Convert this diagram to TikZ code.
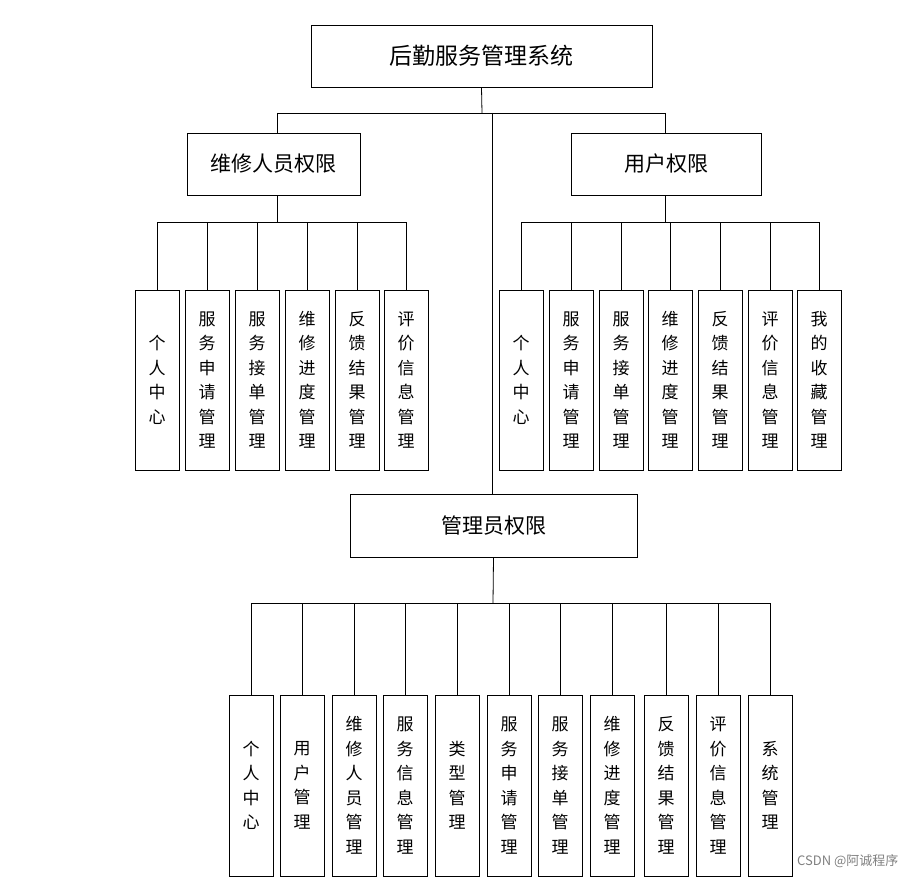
\documentclass[tikz,border=0pt]{standalone}
\usepackage{fontspec}
\setmainfont{Noto Sans CJK SC}
\begin{document}
\begin{tikzpicture}[x=1pt,y=-1pt,
  box/.style={draw,line width=0.9pt,inner sep=0pt},
  leaf/.style={box,minimum width=44pt,minimum height=180pt,align=center,font=\fontsize{17}{24.5}\selectfont},
  conn/.style={line width=0.8pt}]
\useasboundingbox (0,0) rectangle (916,880);
\node[box,minimum width=341pt,minimum height=62pt,font=\fontsize{23}{28}\selectfont] (top) at (481.5,56) {后勤服务管理系统};
\node[box,minimum width=173pt,minimum height=62pt,font=\fontsize{21}{26}\selectfont] (wx) at (273.5,164) {维修人员权限};
\node[box,minimum width=190pt,minimum height=62pt,font=\fontsize{21}{26}\selectfont] (yh) at (666,164) {用户权限};
\node[box,minimum width=287pt,minimum height=63pt,font=\fontsize{21}{26}\selectfont] (gl) at (493.5,525.5) {管理员权限};
\coordinate (j) at (482,113);
\coordinate (t1) at (492,113);
\draw[conn] (top.south) -- (j);
\draw[conn] (277,113) -- (665,113);
\draw[conn] (277,113) -- (277,133);
\draw[conn] (665,113) -- (665,133);
\draw[conn] (t1) -- (gl.north -| t1);
% left group
\draw[conn] (wx.south -| 277,0) -- (277,222);
\draw[conn] (157,222) -- (406,222);
\foreach \x/\t [count=\i] in {157/个\\人\\中\\心, 207/服\\务\\申\\请\\管\\理, 257/服\\务\\接\\单\\管\\理, 307/维\\修\\进\\度\\管\\理, 357/反\\馈\\结\\果\\管\\理, 406/评\\价\\信\\息\\管\\理}{
  \node[leaf] (l\i) at (\x,380) {\t};
  \draw[conn] (\x,222) -- (l\i.north);
}
% right group
\draw[conn] (yh.south -| 665,0) -- (665,222);
\draw[conn] (521,222) -- (819,222);
\foreach \x/\t [count=\i] in {521/个\\人\\中\\心, 571/服\\务\\申\\请\\管\\理, 621/服\\务\\接\\单\\管\\理, 670/维\\修\\进\\度\\管\\理, 720/反\\馈\\结\\果\\管\\理, 770/评\\价\\信\\息\\管\\理, 819/我\\的\\收\\藏\\管\\理}{
  \node[leaf] (r\i) at (\x,380) {\t};
  \draw[conn] (\x,222) -- (r\i.north);
}
% admin group
\draw[conn] (gl.south) -- (493,603);
\draw[conn] (251,603) -- (770,603);
\foreach \x/\t [count=\i] in {251/个\\人\\中\\心, 302/用\\户\\管\\理, 354/维\\修\\人\\员\\管\\理, 405/服\\务\\信\\息\\管\\理, 457/类\\型\\管\\理, 509/服\\务\\申\\请\\管\\理, 560/服\\务\\接\\单\\管\\理, 612/维\\修\\进\\度\\管\\理, 666/反\\馈\\结\\果\\管\\理, 718/评\\价\\信\\息\\管\\理, 770/系\\统\\管\\理}{
  \node[leaf,minimum height=181pt] (a\i) at (\x,785.5) {\t};
  \draw[conn] (\x,603) -- (a\i.north);
}
\node[text=gray,font=\fontsize{13}{15}\selectfont,anchor=east] (wm) at (902,861) {CSDN @阿诚程序};
\end{tikzpicture}
\end{document}
